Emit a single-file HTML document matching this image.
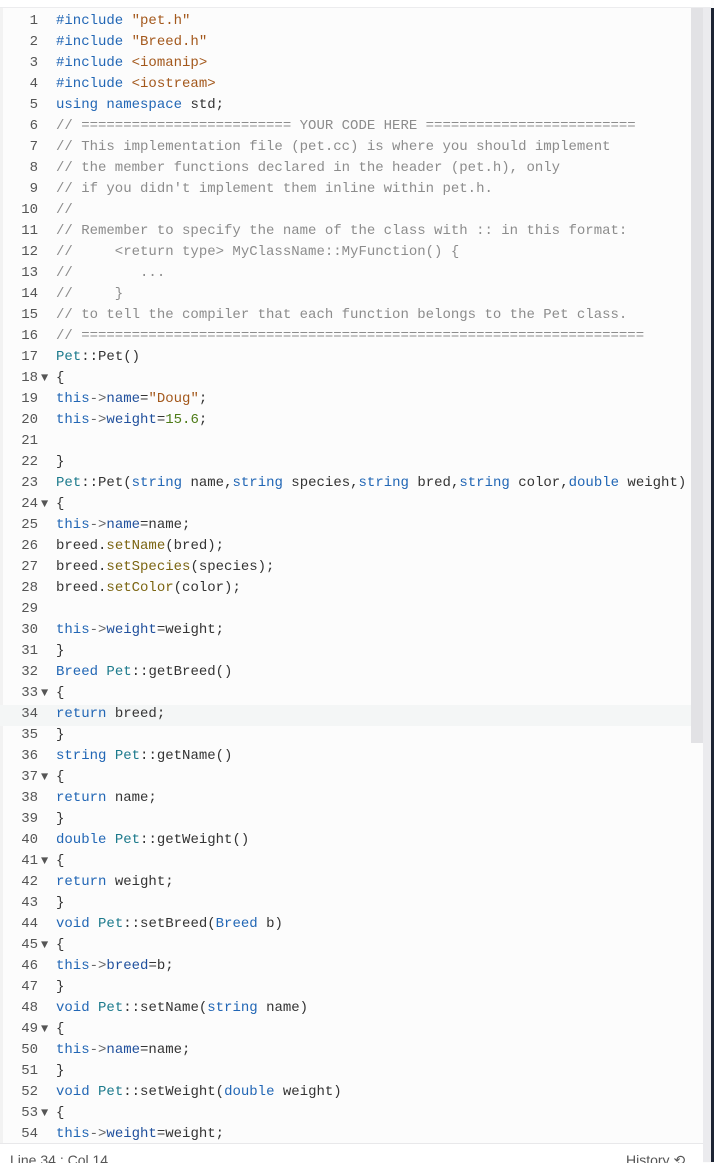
<!DOCTYPE html>
<html><head><meta charset="utf-8"><style>
html,body{margin:0;padding:0;width:714px;height:1162px;overflow:hidden;background:#fcfcfc;font-family:"Liberation Mono",monospace;}
.top{position:absolute;left:0;top:0;width:711px;height:7px;background:#fff;border-bottom:1px solid #ececee;}
.dark{position:absolute;left:711px;top:8px;width:3px;height:1154px;background:#1c2333;}
.track{position:absolute;left:703px;top:8px;width:8px;height:1154px;background:#ebebee;}
.thumb{position:absolute;left:691px;top:8px;width:12px;height:735px;background:#e2e2e5;}
.hl{position:absolute;left:0;top:705px;width:691px;height:21px;background:#f4f6f6;}
.gut{position:absolute;left:0;top:8px;width:3px;height:1135px;background:#f2f2f2;}
.code{position:absolute;left:0;top:11px;margin:0;font-size:14px;line-height:21px;color:#333;}
.l{position:relative;height:21px;white-space:pre;}
.num{position:absolute;left:0;width:38px;text-align:right;color:#555;}
.ar{position:absolute;left:41px;color:#555;font-size:12px;}
.tx{position:absolute;left:56px;}
.k{color:#2166b5}.s{color:#a3581c}.c{color:#8c8c8c}.n{color:#4d7b17}.t{color:#1c7a8c}.p{color:#1f4f9c}.f{color:#7b6512}.o{color:#666}
.status{position:absolute;left:0;top:1143px;width:703px;height:19px;background:#fff;border-top:1px solid #e8e8ea;font-family:"Liberation Sans",sans-serif;font-size:14px;color:#555;overflow:hidden;}
</style></head><body>
<div class="top"></div>
<div class="gut"></div>
<div class="hl"></div>
<div class="thumb"></div>
<div class="track"></div>
<div class="dark"></div>
<div class="code">
<div class="l"><span class="num">1</span><span class="tx"><span class="k">#include</span> <span class="s">"pet.h"</span></span></div>
<div class="l"><span class="num">2</span><span class="tx"><span class="k">#include</span> <span class="s">"Breed.h"</span></span></div>
<div class="l"><span class="num">3</span><span class="tx"><span class="k">#include</span> <span class="s">&lt;iomanip&gt;</span></span></div>
<div class="l"><span class="num">4</span><span class="tx"><span class="k">#include</span> <span class="s">&lt;iostream&gt;</span></span></div>
<div class="l"><span class="num">5</span><span class="tx"><span class="k">using</span> <span class="k">namespace</span> std;</span></div>
<div class="l"><span class="num">6</span><span class="tx c">// ========================= YOUR CODE HERE =========================</span></div>
<div class="l"><span class="num">7</span><span class="tx c">// This implementation file (pet.cc) is where you should implement</span></div>
<div class="l"><span class="num">8</span><span class="tx c">// the member functions declared in the header (pet.h), only</span></div>
<div class="l"><span class="num">9</span><span class="tx c">// if you didn't implement them inline within pet.h.</span></div>
<div class="l"><span class="num">10</span><span class="tx c">//</span></div>
<div class="l"><span class="num">11</span><span class="tx c">// Remember to specify the name of the class with :: in this format:</span></div>
<div class="l"><span class="num">12</span><span class="tx c">//     &lt;return type&gt; MyClassName::MyFunction() {</span></div>
<div class="l"><span class="num">13</span><span class="tx c">//        ...</span></div>
<div class="l"><span class="num">14</span><span class="tx c">//     }</span></div>
<div class="l"><span class="num">15</span><span class="tx c">// to tell the compiler that each function belongs to the Pet class.</span></div>
<div class="l"><span class="num">16</span><span class="tx c">// ===================================================================</span></div>
<div class="l"><span class="num">17</span><span class="tx"><span class="t">Pet</span>::Pet()</span></div>
<div class="l"><span class="num">18</span><span class="ar">▼</span><span class="tx">{</span></div>
<div class="l"><span class="num">19</span><span class="tx"><span class="k">this</span><span class="o">-&gt;</span><span class="p">name</span>=<span class="s">"Doug"</span>;</span></div>
<div class="l"><span class="num">20</span><span class="tx"><span class="k">this</span><span class="o">-&gt;</span><span class="p">weight</span>=<span class="n">15.6</span>;</span></div>
<div class="l"><span class="num">21</span><span class="tx"></span></div>
<div class="l"><span class="num">22</span><span class="tx">}</span></div>
<div class="l"><span class="num">23</span><span class="tx"><span class="t">Pet</span>::Pet(<span class="k">string</span> name,<span class="k">string</span> species,<span class="k">string</span> bred,<span class="k">string</span> color,<span class="k">double</span> weight)</span></div>
<div class="l"><span class="num">24</span><span class="ar">▼</span><span class="tx">{</span></div>
<div class="l"><span class="num">25</span><span class="tx"><span class="k">this</span><span class="o">-&gt;</span><span class="p">name</span>=name;</span></div>
<div class="l"><span class="num">26</span><span class="tx">breed.<span class="f">setName</span>(bred);</span></div>
<div class="l"><span class="num">27</span><span class="tx">breed.<span class="f">setSpecies</span>(species);</span></div>
<div class="l"><span class="num">28</span><span class="tx">breed.<span class="f">setColor</span>(color);</span></div>
<div class="l"><span class="num">29</span><span class="tx"></span></div>
<div class="l"><span class="num">30</span><span class="tx"><span class="k">this</span><span class="o">-&gt;</span><span class="p">weight</span>=weight;</span></div>
<div class="l"><span class="num">31</span><span class="tx">}</span></div>
<div class="l"><span class="num">32</span><span class="tx"><span class="k">Breed</span> <span class="t">Pet</span>::getBreed()</span></div>
<div class="l"><span class="num">33</span><span class="ar">▼</span><span class="tx">{</span></div>
<div class="l"><span class="num">34</span><span class="tx"><span class="k">return</span> breed;</span></div>
<div class="l"><span class="num">35</span><span class="tx">}</span></div>
<div class="l"><span class="num">36</span><span class="tx"><span class="k">string</span> <span class="t">Pet</span>::getName()</span></div>
<div class="l"><span class="num">37</span><span class="ar">▼</span><span class="tx">{</span></div>
<div class="l"><span class="num">38</span><span class="tx"><span class="k">return</span> name;</span></div>
<div class="l"><span class="num">39</span><span class="tx">}</span></div>
<div class="l"><span class="num">40</span><span class="tx"><span class="k">double</span> <span class="t">Pet</span>::getWeight()</span></div>
<div class="l"><span class="num">41</span><span class="ar">▼</span><span class="tx">{</span></div>
<div class="l"><span class="num">42</span><span class="tx"><span class="k">return</span> weight;</span></div>
<div class="l"><span class="num">43</span><span class="tx">}</span></div>
<div class="l"><span class="num">44</span><span class="tx"><span class="k">void</span> <span class="t">Pet</span>::setBreed(<span class="k">Breed</span> b)</span></div>
<div class="l"><span class="num">45</span><span class="ar">▼</span><span class="tx">{</span></div>
<div class="l"><span class="num">46</span><span class="tx"><span class="k">this</span><span class="o">-&gt;</span><span class="p">breed</span>=b;</span></div>
<div class="l"><span class="num">47</span><span class="tx">}</span></div>
<div class="l"><span class="num">48</span><span class="tx"><span class="k">void</span> <span class="t">Pet</span>::setName(<span class="k">string</span> name)</span></div>
<div class="l"><span class="num">49</span><span class="ar">▼</span><span class="tx">{</span></div>
<div class="l"><span class="num">50</span><span class="tx"><span class="k">this</span><span class="o">-&gt;</span><span class="p">name</span>=name;</span></div>
<div class="l"><span class="num">51</span><span class="tx">}</span></div>
<div class="l"><span class="num">52</span><span class="tx"><span class="k">void</span> <span class="t">Pet</span>::setWeight(<span class="k">double</span> weight)</span></div>
<div class="l"><span class="num">53</span><span class="ar">▼</span><span class="tx">{</span></div>
<div class="l"><span class="num">54</span><span class="tx"><span class="k">this</span><span class="o">-&gt;</span><span class="p">weight</span>=weight;</span></div>
</div>
<div class="status"><span style="position:absolute;left:10px;top:8px;">Line 34 : Col 14</span><span style="position:absolute;left:626px;top:8px;">History ⟲</span></div>
</body></html>
